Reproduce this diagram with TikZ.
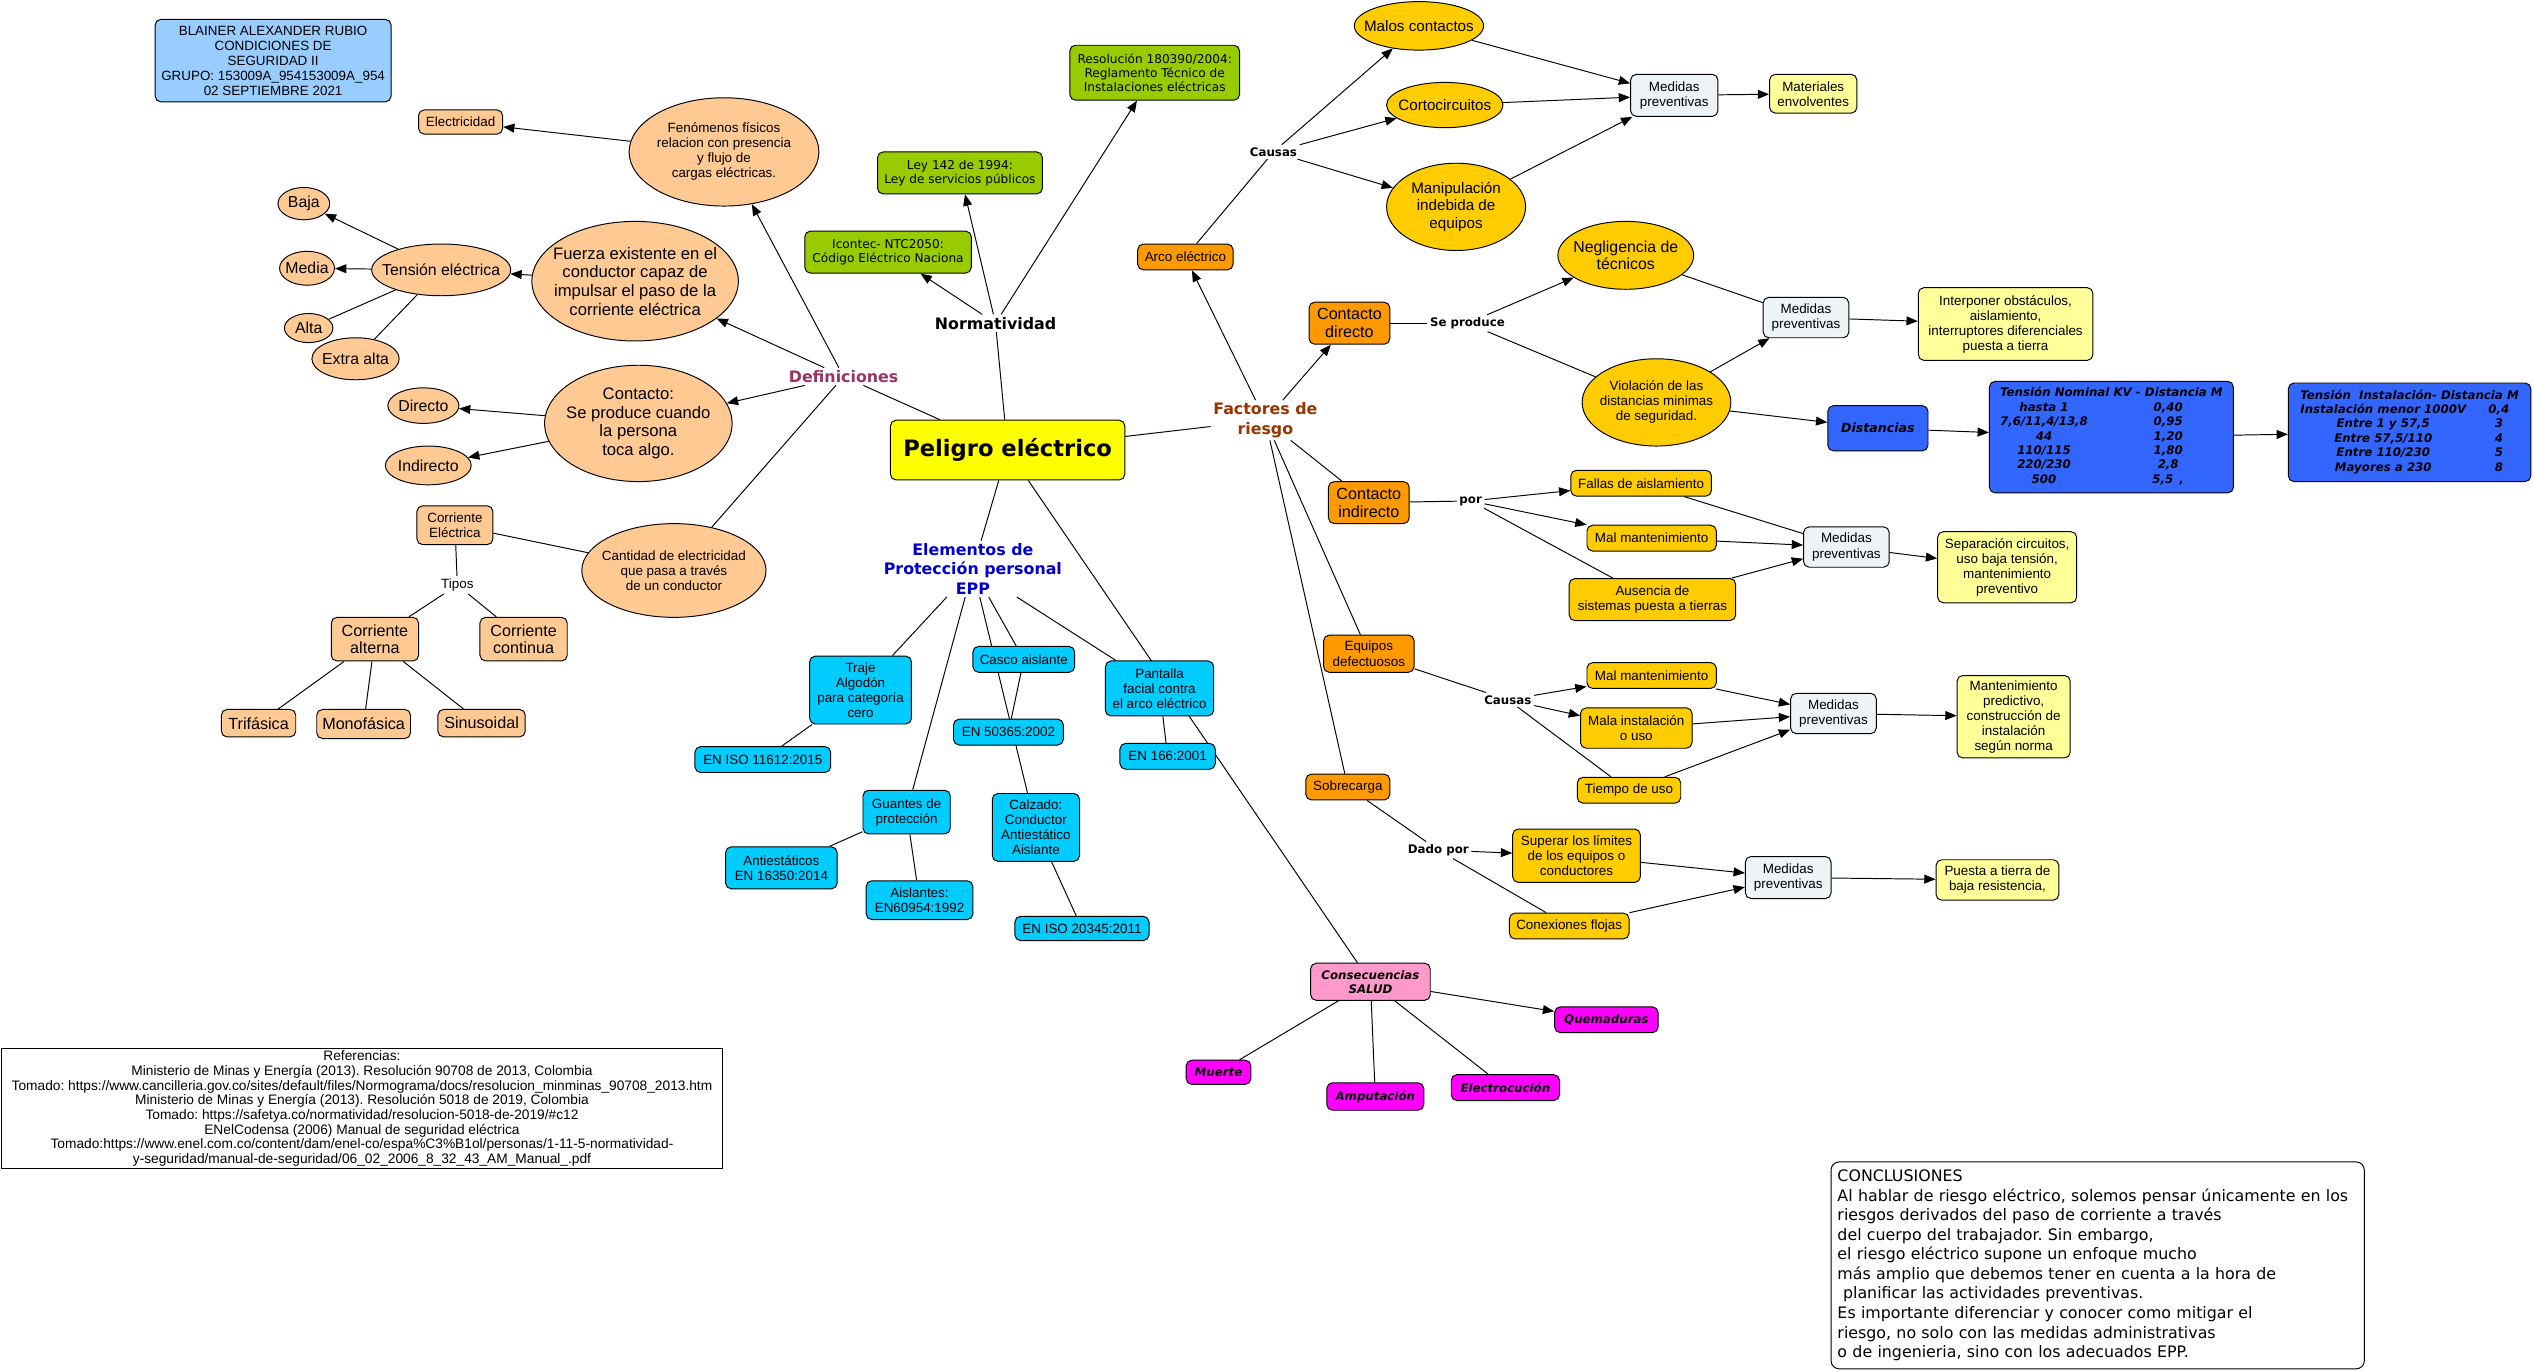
\documentclass[tikz,border=0pt]{standalone}
\usepackage{fontspec}
\setmainfont{Liberation Sans}
\newfontfamily\vf{DejaVu Sans}
\usetikzlibrary{shapes.geometric,arrows.meta,backgrounds}
\definecolor{cpeach}{HTML}{FFC993}
\definecolor{cnamebl}{HTML}{99CCFF}
\definecolor{cgrn}{HTML}{99CC00}
\definecolor{ccyan}{HTML}{00CCFF}
\definecolor{corng}{HTML}{FF9900}
\definecolor{cgold}{HTML}{FFCC00}
\definecolor{cmpf}{HTML}{EEF3F5}
\definecolor{clyel}{HTML}{FFFF99}
\definecolor{cblu}{HTML}{3366FF}
\definecolor{cpink}{HTML}{FF99CC}
\definecolor{cmag}{HTML}{FF00FF}
\definecolor{cyel}{HTML}{FFFF00}
\definecolor{cdefc}{HTML}{993366}
\definecolor{cfacc}{HTML}{993300}
\definecolor{ceppc}{HTML}{0000CC}
\newcommand{\myfs}[2]{\fontsize{#1}{#2}\selectfont}
\tikzset{
  nd/.style={draw=black, line width=0.6pt, align=center, inner sep=1pt},
  rb/.style={nd, rounded corners=3.5pt},
  el/.style={nd, ellipse, inner sep=0pt},
  sz/.style 2 args={minimum width=#1pt, minimum height=#2pt},
  xs/.style={inner xsep=#1pt},
  lbl/.style={inner sep=1.5pt, align=center},
  lk/.style={line width=0.6pt},
  ar/.style={line width=0.6pt, -{Triangle[length=7pt,width=5.5pt]}},
  big/.style={font=\myfs{9.8}{11}},
  bigr/.style={font=\myfs{10}{11}},
  vsm/.style={font=\vf\myfs{7.5}{8.8}},
  lblb/.style={lbl, font=\vf\bfseries\myfs{7.3}{8.5}},
  bi/.style={font=\vf\bfseries\itshape\myfs{7.3}{8.6}},
  tabf/.style={font=\vf\bfseries\itshape\myfs{7.3}{8.9}},
}
\begin{document}
\frenchspacing
\begin{tikzpicture}[x=1pt,y=-1pt, every node/.style={font=\myfs{8.3}{9.3}}]
\useasboundingbox (0,0) rectangle (1568,848);

% ---------- header
\node[rb, fill=cnamebl, sz={146}{51}] (name) at (169,37.5) {BLAINER ALEXANDER RUBIO\\CONDICIONES DE\\SEGURIDAD II\\GRUPO: 153009A\_954153009A\_954\\02 SEPTIEMBRE 2021};

% ---------- definiciones
\node[rb, fill=cpeach, sz={52}{15}] (elec) at (285,75.5) {Electricidad};
\node[el, fill=cpeach, sz={116}{67}] (fen) at (448,94) {Fenómenos físicos\\relacion con presencia\\y flujo de\\cargas eléctricas.};
\node[el, fill=cpeach, sz={32}{20}, big] (baja) at (188,126) {Baja};
\node[el, fill=cpeach, sz={34}{21}, big, xs=-1.5] (media) at (190,166) {Media};
\node[el, fill=cpeach, sz={86}{32}, big, xs=-6.6] (tens) at (273,167) {Tensión eléctrica};
\node[el, fill=cpeach, sz={30}{18}, big] (alta) at (191,203) {Alta};
\node[el, fill=cpeach, sz={54}{26}, big, xs=-1.6] (extra) at (220,222) {Extra alta};
\node[el, fill=cpeach, sz={126}{74}, font=\myfs{10.3}{11.6}, xs=-5.5] (fuer) at (393,174) {Fuerza existente en el\\conductor capaz de\\impulsar el paso de la\\corriente eléctrica};
\node[el, fill=cpeach, sz={44}{22}, big] (dir) at (262,251) {Directo};
\node[el, fill=cpeach, sz={50}{24}, big] (indir) at (265,288) {Indirecto};
\node[el, fill=cpeach, sz={116}{72}, font=\myfs{10.3}{11.6}, xs=-3.7] (cont) at (395,262) {Contacto:\\Se produce cuando\\la persona\\toca algo.};
\node[el, fill=cpeach, sz={114}{58}, xs=-4.5] (cant) at (417,353) {Cantidad de electricidad\\que pasa a través\\de un conductor};
\node[rb, fill=cpeach, sz={47}{24}] (corrE) at (281.5,325) {Corriente\\Eléctrica};
\node[lbl] (tipos) at (283,362) {Tipos};
\node[rb, fill=cpeach, sz={54}{27}, bigr] (corrA) at (232,395.5) {Corriente\\alterna};
\node[rb, fill=cpeach, sz={54}{27}, bigr] (corrC) at (324,395.5) {Corriente\\continua};
\node[rb, fill=cpeach, sz={46}{17}, bigr] (trif) at (160,447.5) {Trifásica};
\node[rb, fill=cpeach, sz={58}{18}, bigr] (mono) at (225,448) {Monofásica};
\node[rb, fill=cpeach, sz={54}{17}, bigr] (sinu) at (298,447.5) {Sinusoidal};
\node[lbl, font=\vf\bfseries\myfs{9.8}{11}, text=cdefc] (defs) at (522,233) {Definiciones};

% ---------- centre and normatividad
\node[rb, fill=cyel, sz={145}{37}, font=\vf\bfseries\myfs{14}{15}] (pel) at (623.5,278.5) {Peligro eléctrico};
\node[lbl, font=\vf\bfseries\myfs{9.8}{11}] (norma) at (616,200) {Normatividad};
\node[rb, fill=cgrn, sz={103}{26}, vsm] (icon) at (549.5,156) {Icontec- NTC2050:\\Código Eléctrico Naciona};
\node[rb, fill=cgrn, sz={102}{26}, vsm] (ley) at (594,107) {Ley 142 de 1994:\\Ley de servicios públicos};
\node[rb, fill=cgrn, sz={105}{34}, vsm] (resol) at (714.5,45) {Resolución 180390/2004:\\Reglamento Técnico de\\Instalaciones eléctricas};

% ---------- EPP
\node[lbl, font=\vf\bfseries\myfs{9.8}{12}, text=ceppc] (epp) at (602,352) {Elementos de\\Protección personal\\EPP};
\node[rb, fill=ccyan, sz={63}{42}] (traje) at (532.5,427) {Traje\\Algodón\\para categoría\\cero};
\node[rb, fill=ccyan, sz={84}{16}] (enA) at (472,470) {EN ISO 11612:2015};
\node[rb, fill=ccyan, sz={63}{16}] (casco) at (633.5,408) {Casco aislante};
\node[rb, fill=ccyan, sz={68}{16}] (enB) at (624,453) {EN 50365:2002};
\node[rb, fill=ccyan, sz={67}{34}] (pant) at (717.5,426) {Pantalla\\facial contra\\el arco eléctrico};
\node[rb, fill=ccyan, sz={59}{16}] (enC) at (722.5,468) {EN 166:2001};
\node[rb, fill=ccyan, sz={54}{27}] (guan) at (561,502.5) {Guantes de\\protección};
\node[rb, fill=ccyan, sz={69}{26}] (antie) at (483.5,537) {Antiestáticos\\EN 16350:2014};
\node[rb, fill=ccyan, sz={66}{24}] (aisl) at (569,557) {Aislantes:\\EN60954:1992};
\node[rb, fill=ccyan, sz={54}{42}] (calz) at (641,512) {Calzado:\\Conductor\\Antiestático\\Aislante};
\node[rb, fill=ccyan, sz={83}{15}] (enD) at (669.5,574.5) {EN ISO 20345:2011};

% ---------- factores de riesgo
\node[lbl, font=\vf\bfseries\myfs{9.8}{12}, text=cfacc] (fact) at (783,260) {Factores de\\riesgo};
\node[rb, fill=corng, sz={59}{16}] (arco) at (733.5,159) {Arco eléctrico};
\node[lblb] (caus1) at (788,94) {Causas};
\node[el, fill=cgold, sz={80}{30}, font=\myfs{9.4}{10.5}, xs=-5.7] (malos) at (878,16) {Malos contactos};
\node[el, fill=cgold, sz={72}{28}, font=\myfs{9.4}{10.5}, xs=-3.3] (corto) at (894,65) {Cortocircuitos};
\node[el, fill=cgold, sz={86}{54}, font=\myfs{9.4}{11}] (manip) at (901,128) {Manipulación\\indebida de\\equipos};
\node[rb, fill=cmpf, sz={54}{26}] (mp1) at (1036,59) {Medidas\\preventivas};
\node[rb, fill=clyel, sz={54}{24}] (mater) at (1122,58) {Materiales\\envolventes};

\node[rb, fill=corng, sz={50}{26}, bigr] (cdir) at (835,200) {Contacto\\directo};
\node[lblb] (sepr) at (908,200) {Se produce};
\node[el, fill=cgold, sz={84}{42}, big, xs=-3.8] (negl) at (1006,158) {Negligencia de\\técnicos};
\node[el, fill=cgold, sz={92}{54}, xs=-3] (viol) at (1025,249) {Violación de las\\distancias minimas\\de seguridad.};
\node[rb, fill=cmpf, sz={53}{25}] (mp2) at (1117.5,196.5) {Medidas\\preventivas};
\node[rb, fill=clyel, sz={108}{45}] (interp) at (1241,200.5) {Interponer obstáculos,\\aislamiento,\\interruptores diferenciales\\puesta a tierra};
\node[rb, fill=cblu, sz={62}{28}, font=\vf\bfseries\itshape\myfs{7.8}{9}] (dist) at (1162,265) {Distancias};
\node[rb, fill=cblu, sz={151}{69}, tabf] (tab1) at (1306.5,270.5) {\begin{tabular}{@{}c@{\hspace{16pt}}c@{}}\multicolumn{2}{@{}l@{}}{Tensión Nominal KV - Distancia M}\\ hasta 1 & 0,40\\ 7,6/11,4/13,8 & 0,95\\ 44 & 1,20\\ 110/115 & 1,80\\ 220/230 & 2,8\\ 500 & 5,5 \,,\end{tabular}};
\node[rb, fill=cblu, sz={150}{61}, tabf] (tab2) at (1491,267.5) {\begin{tabular}{@{}c@{\hspace{8pt}}c@{}}\multicolumn{2}{@{}c@{}}{Tensión\ \ Instalación- Distancia M}\\ Instalación menor 1000V & 0,4\\ Entre 1 y 57,5 & 3\\ Entre 57,5/110 & 4\\ Entre 110/230 & 5\\ Mayores a 230 & 8\end{tabular}};

\node[rb, fill=corng, sz={50}{26}, bigr] (cind) at (847,311) {Contacto\\indirecto};
\node[lblb] (por) at (910,310) {por};
\node[rb, fill=cgold, sz={87}{16}] (fallas) at (1015.5,299) {Fallas de aislamiento};
\node[rb, fill=cgold, sz={80}{16}] (mmA) at (1022,333) {Mal mantenimiento};
\node[rb, fill=cgold, sz={103}{26}] (aus) at (1022.5,371) {Ausencia de\\sistemas puesta a tierras};
\node[rb, fill=cmpf, sz={53}{25}] (mp3) at (1142.5,338.5) {Medidas\\preventivas};
\node[rb, fill=clyel, sz={86}{44}] (separ) at (1242,351) {Separación circuitos,\\uso baja tensión,\\mantenimiento\\preventivo};

\node[rb, fill=corng, sz={56}{23}] (equip) at (847,404.5) {Equipos\\defectuosos};
\node[lblb] (caus2) at (933,433) {Causas};
\node[rb, fill=cgold, sz={80}{16}] (mmB) at (1022,418) {Mal mantenimiento};
\node[rb, fill=cgold, sz={69}{25}] (malai) at (1012.5,450.5) {Mala instalación\\o uso};
\node[rb, fill=cgold, sz={64}{16}] (tiempo) at (1008,489) {Tiempo de uso};
\node[rb, fill=cmpf, sz={53}{25}] (mp4) at (1134.5,441.5) {Medidas\\preventivas};
\node[rb, fill=clyel, sz={70}{51}] (mantto) at (1246,443.5) {Mantenimiento\\predictivo,\\construcción de\\instalación\\según norma};

\node[rb, fill=corng, sz={52}{16}] (sobre) at (834,487) {Sobrecarga};
\node[lblb] (dado) at (890,526) {Dado por};
\node[rb, fill=cgold, sz={79}{33}] (super) at (975.5,529.5) {Superar los límites\\de los equipos o\\conductores};
\node[rb, fill=cgold, sz={74}{16}] (conex) at (971,573) {Conexiones flojas};
\node[rb, fill=cmpf, sz={53}{26}] (mp5) at (1106.5,543) {Medidas\\preventivas};
\node[rb, fill=clyel, sz={76}{25}] (puesta) at (1236,544.5) {Puesta a tierra de\\baja resistencia,};

% ---------- consecuencias
\node[rb, fill=cpink, sz={74}{23}, bi] (consec) at (848,607.5) {Consecuencias\\SALUD};
\node[rb, fill=cmag, sz={64}{16}, bi] (quem) at (994,631) {Quemaduras};
\node[rb, fill=cmag, sz={40}{15}, bi] (muer) at (754,663.5) {Muerte};
\node[rb, fill=cmag, sz={60}{17}, bi] (amput) at (851,678.5) {Amputación};
\node[rb, fill=cmag, sz={67}{16}, bi] (electr) at (931.5,673) {Electrocución};

% ---------- references and conclusions
\node[draw=black, line width=0.6pt, fill=white, sz={446}{74}, inner sep=1pt, align=center, font=\myfs{8.5}{9.1}] (refs) at (224,686) {Referencias:\\Ministerio de Minas y Energía (2013). Resolución 90708 de 2013, Colombia\\Tomado: https://www.cancilleria.gov.co/sites/default/files/Normograma/docs/resolucion\_minminas\_90708\_2013.htm\\Ministerio de Minas y Energía (2013). Resolución 5018 de 2019, Colombia\\Tomado: https://safetya.co/normatividad/resolucion-5018-de-2019/\#c12\\ENelCodensa (2006) Manual de seguridad eléctrica\\Tomado:https://www.enel.com.co/content/dam/enel-co/espa\%C3\%B1ol/personas/1-11-5-normatividad-\\y-seguridad/manual-de-seguridad/06\_02\_2006\_8\_32\_43\_AM\_Manual\_.pdf};
\node[rb, rounded corners=5pt, fill=white, sz={330}{128}, text width=322pt, align=left, inner sep=4pt, font=\vf\myfs{9.8}{12.1}] (concl) at (1298,783) {CONCLUSIONES\\Al hablar de riesgo eléctrico, solemos pensar únicamente en los\\riesgos derivados del paso de corriente a través\\del cuerpo del trabajador. Sin embargo,\\el riesgo eléctrico supone un enfoque mucho\\más amplio que debemos tener en cuenta a la hora de\\\hspace*{0.35em}planificar las actividades preventivas.\\Es importante diferenciar y conocer como mitigar el\\riesgo, no solo con las medidas administrativas\\o de ingenieria, sino con los adecuados EPP.};

% ---------- connectors
\begin{scope}[on background layer]
\fill[white] (0,0) rectangle (1568,848);
% definiciones
\draw[lk] (pel) -- (defs);
\draw[ar] (defs) -- (fen);
\draw[ar] (defs) -- (fuer);
\draw[ar] (defs) -- (cont);
\draw[lk] (defs) -- (cant);
\draw[ar] (fen) -- (elec);
\draw[ar] (fuer) -- (tens);
\draw[ar] (tens) -- (baja);
\draw[ar] (tens) -- (media);
\draw[lk] (tens) -- (alta);
\draw[lk] (tens) -- (extra);
\draw[ar] (cont) -- (dir);
\draw[ar] (cont) -- (indir);
\draw[lk] (cant) -- (corrE);
\draw[lk] (corrE) -- (tipos);
\draw[lk] (tipos) -- (corrA);
\draw[lk] (tipos) -- (corrC);
\draw[lk] (corrA) -- (trif);
\draw[lk] (corrA) -- (mono);
\draw[lk] (corrA) -- (sinu);
% normatividad
\draw[lk] (pel) -- (norma);
\draw[ar] (norma) -- (icon);
\draw[ar] (norma) -- (ley);
\draw[ar] (norma) -- (resol);
% EPP
\draw[lk] (pel) -- (epp);
\draw[lk] (epp) -- (traje);
\draw[lk] (traje) -- (enA);
\draw[lk] (epp) -- (guan);
\draw[lk] (guan) -- (antie);
\draw[lk] (guan) -- (aisl);
\draw[lk] (epp) -- (casco);
\draw[lk] (casco) -- (enB);
\draw[lk] (epp) -- (calz);
\draw[lk] (calz) -- (enD);
\draw[lk] (epp) -- (pant);
\draw[lk] (pant) -- (enC);
\draw[lk] (pel) -- (consec);
% factores
\draw[lk] (pel) -- (fact);
\draw[ar] (fact) -- (arco);
\draw[lk] (arco) -- (caus1);
\draw[ar] (caus1) -- (malos);
\draw[ar] (caus1) -- (corto);
\draw[ar] (caus1) -- (manip);
\draw[ar] (malos) -- (mp1);
\draw[ar] (corto) -- (mp1);
\draw[ar] (manip) -- (mp1);
\draw[ar] (mp1) -- (mater);
\draw[ar] (fact) -- (cdir);
\draw[lk] (cdir) -- (sepr);
\draw[ar] (sepr) -- (negl);
\draw[lk] (sepr) -- (viol);
\draw[lk] (negl) -- (mp2);
\draw[ar] (viol) -- (mp2);
\draw[ar] (mp2) -- (interp);
\draw[ar] (viol) -- (dist);
\draw[ar] (dist) -- (tab1);
\draw[ar] (tab1) -- (tab2);
\draw[lk] (fact) -- (cind);
\draw[lk] (cind) -- (por);
\draw[ar] (por) -- (fallas);
\draw[ar] (por) -- (mmA);
\draw[lk] (por) -- (aus);
\draw[lk] (fallas) -- (mp3);
\draw[ar] (mmA) -- (mp3);
\draw[ar] (aus) -- (mp3);
\draw[ar] (mp3) -- (separ);
\draw[lk] (fact) -- (equip);
\draw[lk] (equip) -- (caus2);
\draw[ar] (caus2) -- (mmB);
\draw[ar] (caus2) -- (malai);
\draw[lk] (caus2) -- (tiempo);
\draw[ar] (mmB) -- (mp4);
\draw[ar] (malai) -- (mp4);
\draw[ar] (tiempo) -- (mp4);
\draw[ar] (mp4) -- (mantto);
\draw[lk] (fact) -- (sobre);
\draw[lk] (sobre) -- (dado);
\draw[ar] (dado) -- (super);
\draw[lk] (dado) -- (conex);
\draw[ar] (super) -- (mp5);
\draw[ar] (conex) -- (mp5);
\draw[ar] (mp5) -- (puesta);
% consecuencias
\draw[ar] (consec) -- (quem);
\draw[lk] (consec) -- (muer);
\draw[lk] (consec) -- (amput);
\draw[lk] (consec) -- (electr);
\end{scope}
\end{tikzpicture}
\end{document}
